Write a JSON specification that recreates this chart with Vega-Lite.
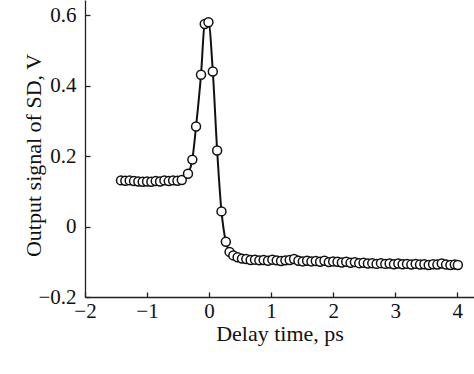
{
  "$schema": "https://vega.github.io/schema/vega-lite/v6.json",
  "width": 389,
  "height": 297,
  "autosize": "none",
  "padding": {"left": 85, "top": 0, "right": 0, "bottom": 77},
  "config": {"view": {"stroke": null}, "font": "Liberation Serif"},
  "data": {"values": [
    {"t": -1.42, "v": 0.131}, {"t": -1.35, "v": 0.130}, {"t": -1.28, "v": 0.131}, {"t": -1.21, "v": 0.129},
    {"t": -1.14, "v": 0.128}, {"t": -1.07, "v": 0.127}, {"t": -1.00, "v": 0.128}, {"t": -0.93, "v": 0.127},
    {"t": -0.86, "v": 0.129}, {"t": -0.79, "v": 0.128}, {"t": -0.72, "v": 0.131}, {"t": -0.65, "v": 0.129},
    {"t": -0.58, "v": 0.131}, {"t": -0.51, "v": 0.130}, {"t": -0.44, "v": 0.132},
    {"t": -0.34, "v": 0.150}, {"t": -0.27, "v": 0.190}, {"t": -0.21, "v": 0.284}, {"t": -0.13, "v": 0.431},
    {"t": -0.07, "v": 0.575}, {"t": -0.01, "v": 0.580}, {"t": 0.06, "v": 0.440}, {"t": 0.13, "v": 0.216},
    {"t": 0.20, "v": 0.043}, {"t": 0.27, "v": -0.043}, {"t": 0.33, "v": -0.072}, {"t": 0.39, "v": -0.082},
    {"t": 0.46, "v": -0.087}, {"t": 0.53, "v": -0.091}, {"t": 0.60, "v": -0.092}, {"t": 0.67, "v": -0.095},
    {"t": 0.74, "v": -0.094}, {"t": 0.81, "v": -0.096}, {"t": 0.88, "v": -0.095}, {"t": 0.95, "v": -0.097},
    {"t": 1.02, "v": -0.094}, {"t": 1.09, "v": -0.096}, {"t": 1.16, "v": -0.098}, {"t": 1.23, "v": -0.096},
    {"t": 1.30, "v": -0.095}, {"t": 1.37, "v": -0.092}, {"t": 1.44, "v": -0.097}, {"t": 1.51, "v": -0.099},
    {"t": 1.58, "v": -0.097}, {"t": 1.65, "v": -0.099}, {"t": 1.72, "v": -0.098}, {"t": 1.79, "v": -0.100},
    {"t": 1.86, "v": -0.097}, {"t": 1.93, "v": -0.101}, {"t": 2.00, "v": -0.099}, {"t": 2.07, "v": -0.100},
    {"t": 2.14, "v": -0.102}, {"t": 2.21, "v": -0.100}, {"t": 2.28, "v": -0.103}, {"t": 2.35, "v": -0.101},
    {"t": 2.42, "v": -0.104}, {"t": 2.49, "v": -0.103}, {"t": 2.56, "v": -0.105}, {"t": 2.63, "v": -0.104},
    {"t": 2.70, "v": -0.106}, {"t": 2.77, "v": -0.104}, {"t": 2.84, "v": -0.106}, {"t": 2.91, "v": -0.105},
    {"t": 2.98, "v": -0.107}, {"t": 3.05, "v": -0.105}, {"t": 3.12, "v": -0.107}, {"t": 3.19, "v": -0.106},
    {"t": 3.26, "v": -0.108}, {"t": 3.33, "v": -0.106}, {"t": 3.40, "v": -0.108}, {"t": 3.47, "v": -0.107},
    {"t": 3.54, "v": -0.109}, {"t": 3.61, "v": -0.107}, {"t": 3.68, "v": -0.108}, {"t": 3.75, "v": -0.105},
    {"t": 3.82, "v": -0.108}, {"t": 3.89, "v": -0.109}, {"t": 3.96, "v": -0.108}, {"t": 4.01, "v": -0.109}
  ]},
  "encoding": {
    "x": {"field": "t", "type": "quantitative",
      "scale": {"domain": [-2, 4.27], "nice": false, "zero": false},
      "axis": {"values": [-2, -1, 0, 1, 2, 3, 4], "grid": false, "title": "Delay time, ps",
        "labelExpr": "replace(format(datum.value, 'd'), '-', '−')",
        "domainColor": "#222", "domainWidth": 1.3, "tickColor": "#222", "tickWidth": 1.3, "tickSize": -5,
        "labelFont": "Liberation Serif", "labelFontSize": 21, "labelColor": "#111", "labelPadding": 8,
        "labelFlush": false, "labelOverlap": false,
        "titleFont": "Liberation Serif", "titleFontSize": 22, "titleFontWeight": "normal", "titleColor": "#111", "titlePadding": 2}},
    "y": {"field": "v", "type": "quantitative",
      "scale": {"domain": [-0.2, 0.643], "nice": false, "zero": false},
      "axis": {"values": [-0.2, 0, 0.2, 0.4, 0.6], "grid": false, "title": "Output signal of SD, V",
        "labelExpr": "datum.value == 0 ? '0' : replace(format(datum.value, '.1f'), '-', '−')",
        "domainColor": "#222", "domainWidth": 1.3, "tickColor": "#222", "tickWidth": 1.3, "tickSize": -5,
        "labelFont": "Liberation Serif", "labelFontSize": 21, "labelColor": "#111", "labelPadding": 14,
        "labelFlush": false, "labelOverlap": false,
        "titleFont": "Liberation Serif", "titleFontSize": 22, "titleFontWeight": "normal", "titleColor": "#111",
        "titleX": -52, "titleY": 155, "titleBaseline": "middle", "titleAlign": "center", "titleAngle": -90}}
  },
  "layer": [
    {"mark": {"type": "line", "interpolate": "monotone", "color": "#111", "strokeWidth": 2}},
    {"mark": {"type": "point", "shape": "circle", "filled": true, "fill": "white", "stroke": "#111", "strokeWidth": 1.5, "size": 80, "opacity": 1}}
  ]
}
